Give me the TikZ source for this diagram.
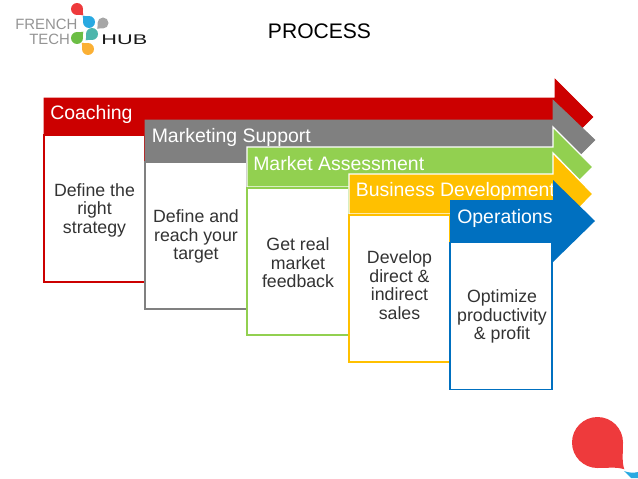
\documentclass[tikz,border=0pt]{standalone}
\usepackage{xcolor}
\usepackage{fontspec}
\setmainfont{Liberation Sans}
\definecolor{coachred}{HTML}{CC0000}
\definecolor{marketgray}{HTML}{808080}
\definecolor{assessgreen}{HTML}{92D050}
\definecolor{devorange}{HTML}{FFC000}
\definecolor{opsblue}{HTML}{0070C0}
\definecolor{bubblered}{HTML}{EE3A3C}
\definecolor{dropblue}{HTML}{29A9E1}
\definecolor{dropteal}{HTML}{4DB6AC}
\definecolor{dropgreen}{HTML}{6CBE45}
\definecolor{droporange}{HTML}{FBB034}
\tikzset{
  stagebox/.style={draw=#1, line width=1.2pt, fill=white, minimum width=75pt, minimum height=110pt, inner sep=0pt},
  stagetext/.style={align=center, text=black!80, font=\fontsize{13.3}{13.9}\selectfont, inner sep=0pt},
  headtext/.style={anchor=west, text=white, font=\fontsize{14.6}{17}\selectfont, inner sep=0pt},
  logotext/.style={anchor=west, text=black!42, font=\fontsize{11.2}{13}\selectfont, inner sep=0pt},
}
\newcommand{\logodrop}[5]{%
\fill[#5, shift={(#1,#2)}, rotate=#4, scale=#3] (1,0) arc[start angle=0, end angle=-270, radius=1]
  .. controls (0.45,1) and (0.75,0.95) .. (1.05,1.05) .. controls (0.95,0.75) and (1,0.45) .. (1,0) -- cycle;}
\begin{document}
\begin{tikzpicture}[x=0.75pt, y=-0.75pt]
\useasboundingbox (0,0) rectangle (638,478);

\node (title) at (319.5,31) {\fontsize{15.8}{18}\selectfont PROCESS};

% logo
\node[logotext] (french) at (15,24) {FRENCH};
\node[logotext] (tech) at (29,39.5) {TECH};
\node[anchor=west, inner sep=0pt, text=black!90, xscale=1.55, font=\fontsize{10.5}{12}\selectfont] (hub) at (101,39.5) {HUB};
\logodrop{77}{9}{6}{0}{bubblered}
\logodrop{89}{22}{6}{180}{dropblue}
\logodrop{103}{23}{5.5}{-90}{black!35}
\logodrop{92}{34}{6}{-90}{dropteal}
\logodrop{77}{38}{6}{90}{dropgreen}
\logodrop{88}{49}{6}{180}{droporange}

% stages
\draw[fill=coachred, draw=coachred] (44,98) -- (555,98) -- (555,79) -- (593,117) -- (555,155) -- (555,135) -- (44,135) -- cycle;
\node[stagebox=coachred, minimum width=75.75pt] (coachbox) at (94.5,208.5) {};
\node[headtext] (coachhead) at (50,114) {Coaching};
\node[stagetext] (coachtext) at (94.5,210) {Define the\\right\\strategy};

\draw[fill=marketgray, draw=marketgray] (145,120) -- (553,120) -- (553,100) -- (595,140) -- (553,182) -- (553,162) -- (145,162) -- cycle;
\node[stagebox=marketgray, minimum width=76.5pt] (supportbox) at (196,235.5) {};
\node[headtext] (supporthead) at (151.5,137) {Marketing Support};
\node[stagetext] (supporttext) at (196,236.5) {Define and\\reach your\\target};

\draw[fill=assessgreen, draw=white, line width=1pt] (247,147) -- (553,147) -- (553,127) -- (593,167) -- (553,207) -- (553,187) -- (247,187) -- cycle;
\node[stagebox=assessgreen, minimum width=76.5pt] (assessbox) at (298,261.5) {};
\node[headtext] (assesshead) at (253,164) {Market Assessment};
\node[stagetext] (assesstext) at (298,263) {Get real\\market\\feedback};

\draw[fill=devorange, draw=white, line width=1pt] (349,174) -- (553,174) -- (553,153) -- (593,194) -- (553,235) -- (553,214) -- (349,214) -- cycle;
\node[stagebox=devorange, minimum width=75.75pt] (devbox) at (399.5,288.5) {};
\node[headtext] (devhead) at (355.5,191) {Business Development};
\node[stagetext] (devtext) at (399.5,285) {Develop\\direct \&\\indirect\\sales};

\fill[opsblue] (450,200) -- (553,200) -- (553,180) -- (595,221) -- (553,262) -- (553,243) -- (450,243) -- cycle;
\node[stagebox=opsblue, minimum width=76.5pt] (opsbox) at (501,316) {};
\node[headtext] (opshead) at (457,218) {Operations};
\node[stagetext] (opstext) at (502,316.5) {Optimize\\productivity\\\& profit};

% corner mark
\logodrop{597.5}{442.5}{25.5}{0}{bubblered}
\fill[dropblue] (624,471) .. controls (629,473) and (634,473) .. (638,472) -- (638,478) -- (631,478) -- cycle;
\end{tikzpicture}
\end{document}
